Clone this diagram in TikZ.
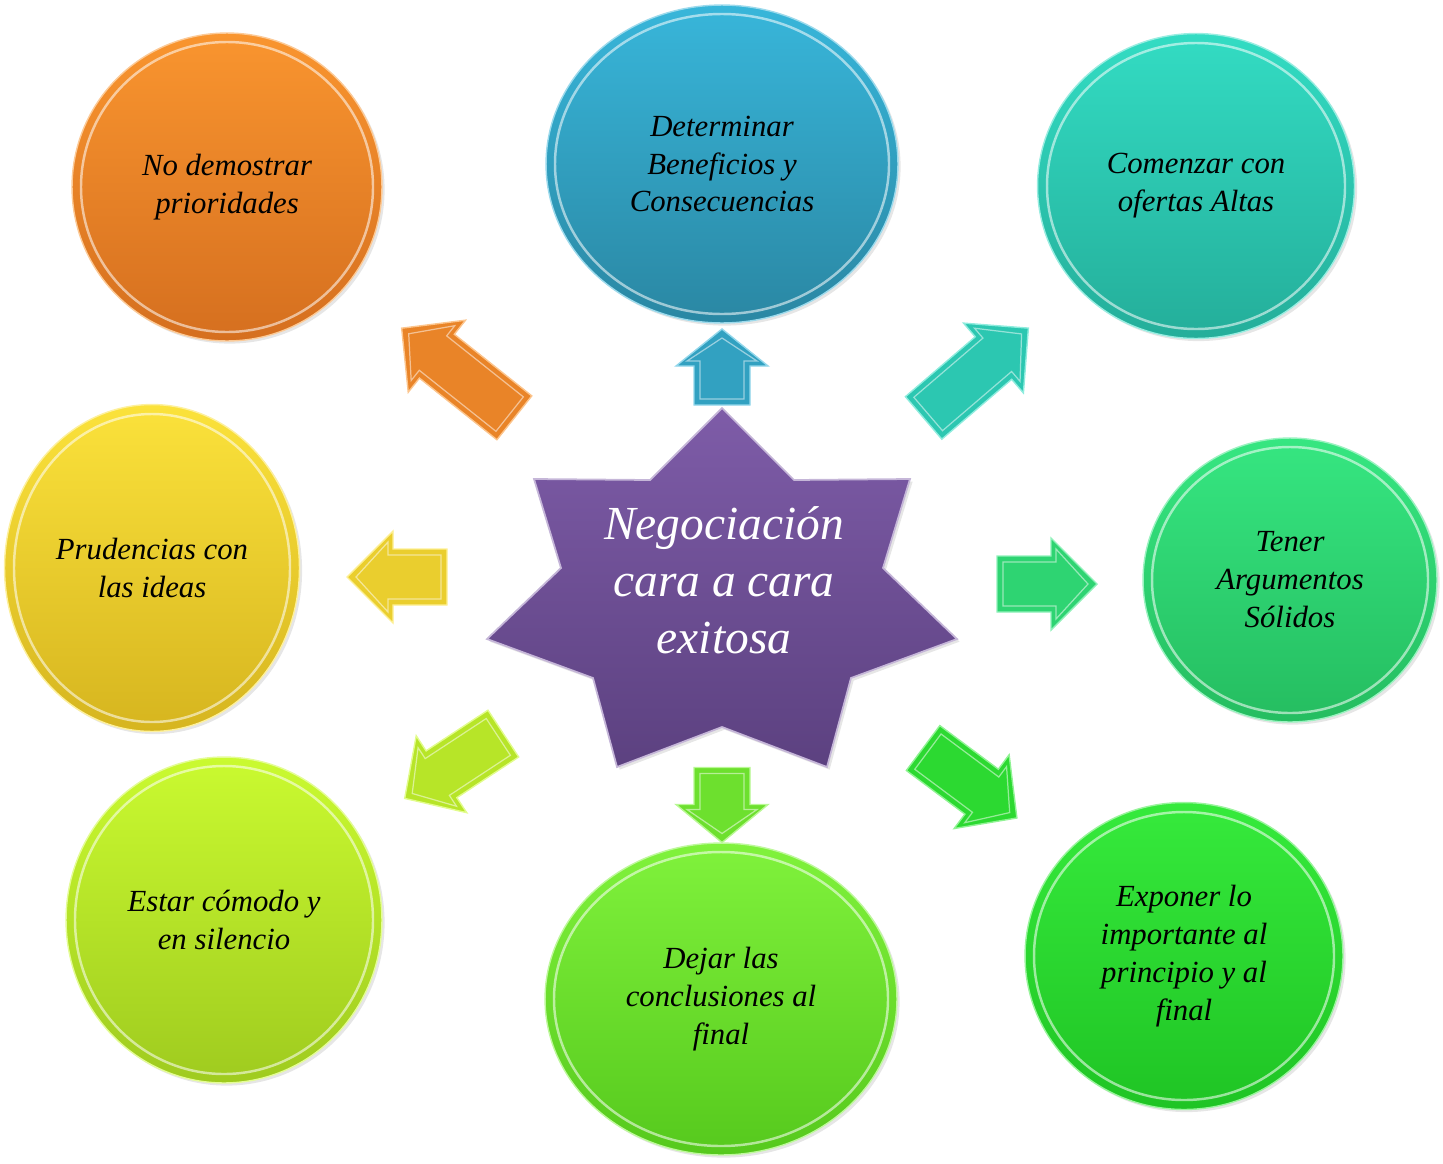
\documentclass[tikz,border=0pt]{standalone}
\usepackage{fontspec}
\setmainfont{Liberation Serif}
\usetikzlibrary{shapes.geometric,shadows}

\definecolor{orangetop}{HTML}{F9952F}
\definecolor{orangebot}{HTML}{D56F1F}
\definecolor{bluetop}{HTML}{38B6DA}
\definecolor{bluebot}{HTML}{2A87A3}
\definecolor{tealtop}{HTML}{33DCC3}
\definecolor{tealbot}{HTML}{24AE9A}
\definecolor{minttop}{HTML}{36E681}
\definecolor{mintbot}{HTML}{25BD60}
\definecolor{greentop}{HTML}{36EA3C}
\definecolor{greenbot}{HTML}{1FC424}
\definecolor{leaftop}{HTML}{80F23C}
\definecolor{leafbot}{HTML}{56C91D}
\definecolor{limetop}{HTML}{CAFA30}
\definecolor{limebot}{HTML}{9FCB1F}
\definecolor{yellowtop}{HTML}{FBE23B}
\definecolor{yellowbot}{HTML}{D6B51F}
\definecolor{startop}{HTML}{7E5CA8}
\definecolor{starbot}{HTML}{5C4180}

\begin{document}
\begin{tikzpicture}[x=0.02cm, y=-0.02cm,
    bubble/.style={ellipse, inner sep=0pt, align=center, line width=0.8pt,
      font=\itshape\fontsize{17.5}{21.6}\selectfont,
      drop shadow={opacity=0.2, shadow xshift=1.5pt, shadow yshift=-1.5pt}},
    rim/.style={white, opacity=0.55, line width=1.4pt},
    starshape/.style={top color=startop, bottom color=starbot, draw=startop!45!white, line width=1pt,
      drop shadow={opacity=0.2, shadow xshift=1.5pt, shadow yshift=-1.5pt}},
    startext/.style={align=center, text=white, font=\itshape\fontsize{27}{32.4}\selectfont},
    arrowbody/.style={line width=0.8pt},
    bevel/.style={white, opacity=0.5, line width=0.7pt}]

    \useasboundingbox (0,0) rectangle (1443,1163);

    % Outer bubbles
    \node[bubble, minimum width=6.2cm, minimum height=6.16cm, top color=orangetop, bottom color=orangebot, draw=orangetop!50!white]
        (prio) at (227,187) {No demostrar\\prioridades};
    \node[bubble, minimum width=7.04cm, minimum height=6.36cm, top color=bluetop, bottom color=bluebot, draw=bluetop!50!white]
        (benef) at (722,164) {Determinar\\Beneficios y\\Consecuencias};
    \node[bubble, minimum width=6.34cm, minimum height=6.1cm, top color=tealtop, bottom color=tealbot, draw=tealtop!50!white]
        (ofertas) at (1196,186) {Comenzar con\\ofertas Altas};
    \node[bubble, minimum width=5.88cm, minimum height=5.68cm, top color=minttop, bottom color=mintbot, draw=minttop!50!white]
        (argum) at (1290,580) {Tener\\Argumentos\\Sólidos};
    \node[bubble, minimum width=6.36cm, minimum height=6.14cm, top color=greentop, bottom color=greenbot, draw=greentop!50!white]
        (expon) at (1184,956) {Exponer lo\\importante al\\principio y al\\final};
    \node[bubble, minimum width=7.04cm, minimum height=6.24cm, top color=leaftop, bottom color=leafbot, draw=leaftop!50!white]
        (conclu) at (721,999) {Dejar las\\conclusiones al\\final};
    \node[bubble, minimum width=6.32cm, minimum height=6.52cm, top color=limetop, bottom color=limebot, draw=limetop!50!white]
        (comodo) at (224,920) {Estar cómodo y\\en silencio};
    \node[bubble, minimum width=5.9cm, minimum height=6.54cm, top color=yellowtop, bottom color=yellowbot, draw=yellowtop!50!white]
        (ideas) at (152,568) {Prudencias con\\las ideas};

    % Glassy rims
    \foreach \n/\rx/\ry in {prio/146/145, benef/167/150, ofertas/149/143, argum/138/133,
                            expon/150/144, conclu/167/147, comodo/149/154, ideas/138/154}
        \draw[rim] (\n.center) ellipse [x radius=\rx, y radius=\ry];

    % Central star
    \filldraw[starshape] (722,408) -- (794,480) -- (910,479) -- (883,568) -- (957,639) -- (851,678)
        -- (827,767) -- (722,727) -- (617,767) -- (593,678) -- (487,639) -- (561,568) -- (534,479)
        -- (650,480) -- cycle;
    \node[startext] (nego) at (724,580) {Negociación\\cara a cara\\exitosa};

    % Block arrows: centre x/y, angle, length, head length, colours
    \foreach \x/\y/\a/\l/\h/\ca/\cb in {722/367/90/76/37/bluetop/bluebot,
        1047/584/0/100/46/minttop/mintbot, 970/783/-36.7/117/44/greentop/greenbot,
        722/805/-90/75/38/leaftop/leafbot, 454/766/213.3/118/44/limetop/limebot,
        397/577/180/100/46/yellowtop/yellowbot, 458/373/141.5/144/45/orangetop/orangebot,
        976/373/40.6/138/46/tealtop/tealbot}
    {
        \begin{scope}[shift={(\x,\y)}, rotate=\a]
            \filldraw[arrowbody, fill=\ca!55!\cb, draw=\ca!55!white]
                ({-\l/2},-28) -- ({\l/2-\h},-28) -- ({\l/2-\h},-46) -- ({\l/2},0)
                -- ({\l/2-\h},46) -- ({\l/2-\h},28) -- ({-\l/2},28) -- cycle;
            \draw[bevel] ({-\l/2+6},-22) -- ({\l/2-\h+5},-22) -- ({\l/2-\h+5},-35) -- ({\l/2-9},0)
                -- ({\l/2-\h+5},35) -- ({\l/2-\h+5},22) -- ({-\l/2+6},22) -- cycle;
        \end{scope}
    }
\end{tikzpicture}
\end{document}
